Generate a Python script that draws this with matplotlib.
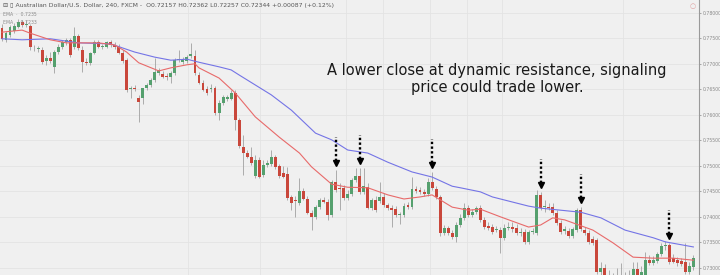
import numpy as np
import matplotlib
matplotlib.use("Agg")
import matplotlib.pyplot as plt

# AUD/USD 4h candles
opens = [
    .7770, .7747, .7756, .7764, .7772, .7782, .7776, .7774, .7731, .7729,
    .7727, .7705, .7711, .7694, .7723, .7733, .7743, .7747, .7733, .7754,
    .7727, .7703, .7702, .7721, .7743, .7733, .7733, .7743, .7737, .7733,
    .7721, .7707, .7651, .7653, .7633, .7633, .7653, .7658, .7668, .7682,
    .7680, .7676, .7674, .7682, .7707, .7703, .7705, .7715, .7715, .7678,
    .7662, .7651, .7651, .7653, .7604, .7623, .7631, .7631, .7643, .7590,
    .7537, .7525, .7517, .7480, .7511, .7482, .7502, .7504, .7517, .7500,
    .7486, .7484, .7439, .7433, .7427, .7451, .7435, .7408, .7400, .7419,
    .7433, .7429, .7404, .7468, .7457, .7457, .7437, .7445, .7472, .7480,
    .7449, .7458, .7417, .7433, .7431, .7439, .7423, .7417, .7415, .7404,
    .7404, .7423, .7419, .7455, .7453, .7449, .7445, .7468, .7455, .7439,
    .7368, .7378, .7368, .7360, .7384, .7398, .7417, .7404, .7409, .7417,
    .7394, .7382, .7380, .7374, .7374, .7359, .7378, .7380, .7378, .7368,
    .7370, .7351, .7370, .7368, .7443, .7419, .7419, .7419, .7408, .7388,
    .7372, .7372, .7362, .7374, .7413, .7374, .7368, .7357, .7355, .7292,
    .7300, .7280, .7274, .7270, .7278, .7266, .7276, .7282, .7298, .7276,
    .7286, .7315, .7310, .7313, .7327, .7343, .7345, .7319, .7315, .7313,
    .7311, .7292, .7302]
highs = [
    .7778, .7764, .7776, .7780, .7788, .7786, .7786, .7778, .7737, .7735,
    .7733, .7717, .7723, .7727, .7739, .7747, .7751, .7751, .7772, .7758,
    .7735, .7711, .7723, .7747, .7747, .7739, .7745, .7747, .7743, .7739,
    .7727, .7711, .7656, .7658, .7639, .7649, .7662, .7672, .7711, .7692,
    .7686, .7682, .7686, .7711, .7727, .7713, .7717, .7741, .7727, .7684,
    .7668, .7656, .7660, .7656, .7629, .7639, .7639, .7649, .7649, .7594,
    .7560, .7531, .7537, .7521, .7517, .7511, .7511, .7531, .7521, .7504,
    .7500, .7498, .7443, .7441, .7476, .7457, .7441, .7413, .7423, .7437,
    .7439, .7435, .7472, .7492, .7466, .7462, .7453, .7476, .7496, .7496,
    .7496, .7466, .7437, .7441, .7468, .7447, .7427, .7423, .7421, .7409,
    .7427, .7429, .7478, .7460, .7458, .7455, .7476, .7488, .7460, .7443,
    .7384, .7382, .7374, .7390, .7406, .7427, .7423, .7415, .7421, .7423,
    .7400, .7390, .7386, .7382, .7380, .7386, .7390, .7390, .7386, .7378,
    .7376, .7374, .7378, .7453, .7449, .7433, .7427, .7427, .7413, .7394,
    .7382, .7378, .7380, .7417, .7419, .7380, .7374, .7362, .7359, .7311,
    .7308, .7296, .7290, .7300, .7310, .7292, .7296, .7311, .7311, .7304,
    .7331, .7325, .7323, .7331, .7349, .7353, .7349, .7327, .7321, .7319,
    .7349, .7311, .7325]
lows = [
    .7745, .7743, .7752, .7760, .7770, .7772, .7772, .7727, .7725, .7723,
    .7700, .7698, .7702, .7682, .7719, .7729, .7737, .7713, .7729, .7727,
    .7684, .7698, .7698, .7719, .7731, .7729, .7731, .7733, .7729, .7719,
    .7702, .7645, .7633, .7647, .7586, .7621, .7649, .7654, .7664, .7678,
    .7672, .7668, .7662, .7678, .7703, .7700, .7702, .7711, .7678, .7660,
    .7647, .7639, .7645, .7600, .7590, .7619, .7627, .7629, .7570, .7535,
    .7482, .7515, .7502, .7476, .7476, .7478, .7498, .7500, .7494, .7476,
    .7476, .7433, .7413, .7400, .7423, .7433, .7406, .7374, .7396, .7415,
    .7427, .7394, .7400, .7449, .7413, .7433, .7433, .7441, .7468, .7445,
    .7445, .7415, .7413, .7409, .7427, .7419, .7413, .7380, .7400, .7386,
    .7400, .7415, .7415, .7447, .7445, .7441, .7441, .7453, .7435, .7362,
    .7364, .7364, .7357, .7351, .7380, .7394, .7400, .7400, .7406, .7390,
    .7376, .7374, .7366, .7370, .7329, .7355, .7374, .7370, .7364, .7362,
    .7347, .7347, .7366, .7364, .7413, .7409, .7413, .7404, .7384, .7366,
    .7366, .7359, .7359, .7370, .7372, .7364, .7347, .7345, .7288, .7284,
    .7272, .7266, .7261, .7264, .7261, .7261, .7268, .7276, .7270, .7272,
    .7282, .7306, .7306, .7310, .7323, .7335, .7308, .7310, .7304, .7304,
    .7288, .7288, .7296]
closes = [
    .7749, .7760, .7772, .7774, .7782, .7776, .7778, .7733, .7730, .7731,
    .7703, .7711, .7705, .7723, .7733, .7743, .7747, .7717, .7754, .7731,
    .7703, .7702, .7721, .7743, .7733, .7735, .7743, .7737, .7733, .7721,
    .7705, .7649, .7653, .7651, .7625, .7653, .7658, .7668, .7684, .7688,
    .7674, .7674, .7682, .7707, .7709, .7707, .7713, .7719, .7682, .7662,
    .7649, .7643, .7653, .7604, .7623, .7635, .7635, .7643, .7590, .7539,
    .7525, .7517, .7506, .7511, .7478, .7502, .7506, .7517, .7498, .7480,
    .7478, .7437, .7427, .7431, .7451, .7435, .7408, .7400, .7419, .7433,
    .7429, .7404, .7468, .7453, .7455, .7437, .7445, .7472, .7480, .7449,
    .7460, .7417, .7433, .7413, .7439, .7423, .7417, .7413, .7404, .7406,
    .7421, .7419, .7455, .7451, .7449, .7445, .7468, .7457, .7439, .7368,
    .7378, .7368, .7360, .7384, .7398, .7417, .7404, .7409, .7417, .7394,
    .7380, .7378, .7370, .7376, .7359, .7378, .7380, .7376, .7368, .7370,
    .7351, .7370, .7372, .7443, .7417, .7421, .7418, .7408, .7388, .7370,
    .7376, .7362, .7376, .7413, .7376, .7368, .7351, .7349, .7292, .7300,
    .7280, .7274, .7268, .7278, .7266, .7276, .7282, .7298, .7276, .7292,
    .7315, .7310, .7315, .7327, .7343, .7345, .7311, .7311, .7310, .7308,
    .7292, .7304, .7319]

# EMA lines, sampled along the chart (bar index, price)
ema_fast_bars = [0, 5, 7, 12, 16, 24, 28, 31, 34, 39, 42, 46, 48, 49, 54, 58, 63, 69,
                 74, 77, 82, 86, 91, 96, 100, 104, 107, 112, 116, 119, 124, 131, 134,
                 137, 140, 147, 152, 157, 162, 167, 172]
ema_fast = [.7762, .7766, .7760, .7747, .7741, .7741, .7737, .7723, .7702, .7686,
            .7692, .7698, .7700, .7692, .7672, .7643, .7596, .7556, .7525, .7498,
            .7464, .7458, .7457, .7443, .7435, .7439, .7443, .7419, .7413, .7415,
            .7400, .7380, .7384, .7398, .7394, .7374, .7349, .7321, .7319, .7319,
            .7315]
ema_slow_bars = [0, 5, 12, 19, 27, 33, 38, 42, 46, 49, 54, 57, 59, 67, 72, 78, 82, 86,
                 91, 96, 102, 107, 112, 114, 119, 122, 131, 134, 139, 144, 149, 155,
                 162, 165, 172]
ema_slow = [.7749, .7747, .7749, .7741, .7739, .7723, .7713, .7707, .7709, .7703,
            .7694, .7688, .7678, .7639, .7609, .7564, .7551, .7531, .7525, .7507,
            .7488, .7478, .7460, .7457, .7449, .7439, .7421, .7417, .7413, .7409,
            .7398, .7374, .7359, .7351, .7341]

arrow_bars = [83, 89, 107, 134, 144, 166]
time_grid = [46.3, 64.2, 85.6, 94.8, 106.5, 115.7, 124.4, 154.5]
price_ticks = [0.730, 0.735, 0.740, 0.745, 0.750, 0.755, 0.760, 0.765, 0.770, 0.775, 0.780]

header = ("\u229f \u25af Australian Dollar/U.S. Dollar, 240, FXCM -  O0.72157 H0.72362 "
          "L0.72257 C0.72344 +0.00087 (+0.12%)")
note = "A lower close at dynamic resistance, signaling\nprice could trade lower."

assert len(opens) == len(highs) == len(lows) == len(closes)

bg = "#f0f0f0"
up_col = "#55a06e"
dn_col = "#c9473b"

fig = plt.figure(figsize=(7.2, 2.75), dpi=100)
fig.patch.set_facecolor(bg)
ax = fig.add_axes([0, 0, 699 / 720, 1])
ax.set_facecolor(bg)

o = np.array(opens)
h = np.array(highs)
l = np.array(lows)
c = np.array(closes)
x = np.arange(len(o))
up = c >= o

for t in price_ticks:
    ax.axhline(t, color="#e3e3e3", lw=0.6, zorder=0)
for t in time_grid:
    ax.axvline(t, color="#e3e3e3", lw=0.6, zorder=0)

ax.vlines(x, l, h, color="#a0a0a0", lw=0.6, zorder=2)
body_lo = np.minimum(o, c)
body_h = np.maximum(np.abs(c - o), 0.00008)
ax.bar(x, body_h, bottom=body_lo, width=0.72,
       color=np.where(up, up_col, dn_col), edgecolor="none", zorder=3)

ax.plot(ema_slow_bars, ema_slow, color="#7474e6", lw=0.8, zorder=4)
ax.plot(ema_fast_bars, ema_fast, color="#e86a6a", lw=0.8, zorder=4)

for b in arrow_bars:
    tip = highs[b] + 0.0009
    ax.plot([b, b], [tip + 0.0009, tip + 0.0056], color="black", lw=1.7,
            ls=(0, (1, 1)), solid_capstyle="butt", zorder=5)
    ax.plot(b, tip + 0.0005, marker="v", ms=4.2, color="black", zorder=5)

ax.set_xlim(-0.5, 173.4)
ax.set_ylim(0.7286, 0.7825)
ax.set_xticks([])
ax.yaxis.tick_right()
ax.set_yticks(price_ticks)
ax.set_yticklabels(["%.5f" % t for t in price_ticks])
ax.tick_params(axis="y", labelsize=3.3, colors="#888888", length=1.5, width=0.5, pad=1)
for s in ["top", "bottom", "left"]:
    ax.spines[s].set_visible(False)
ax.spines["right"].set_color("#9a9a9a")
ax.spines["right"].set_linewidth(0.8)

fig.text(3 / 720, 1 - 6 / 275, header, fontsize=4.4, color="#555555", va="center")
fig.text(3 / 720, 1 - 14 / 275, "EMA  \u00b7  0.7235", fontsize=3.3, color="#8a8a8a", va="center")
fig.text(3 / 720, 1 - 22 / 275, "EMA  \u00b7  0.7233", fontsize=3.3, color="#8a8a8a", va="center")
fig.text(693 / 720, 1 - 6 / 275, "\u25cb", fontsize=5, color="#e0a0a0", ha="center", va="center")

fig.text(497 / 720, 1 - 79 / 275, note, fontsize=10.5, color="#1a1a1a",
         ha="center", va="center", multialignment="center", linespacing=1.15)

fig.savefig("out.png", dpi=100, facecolor=bg)
